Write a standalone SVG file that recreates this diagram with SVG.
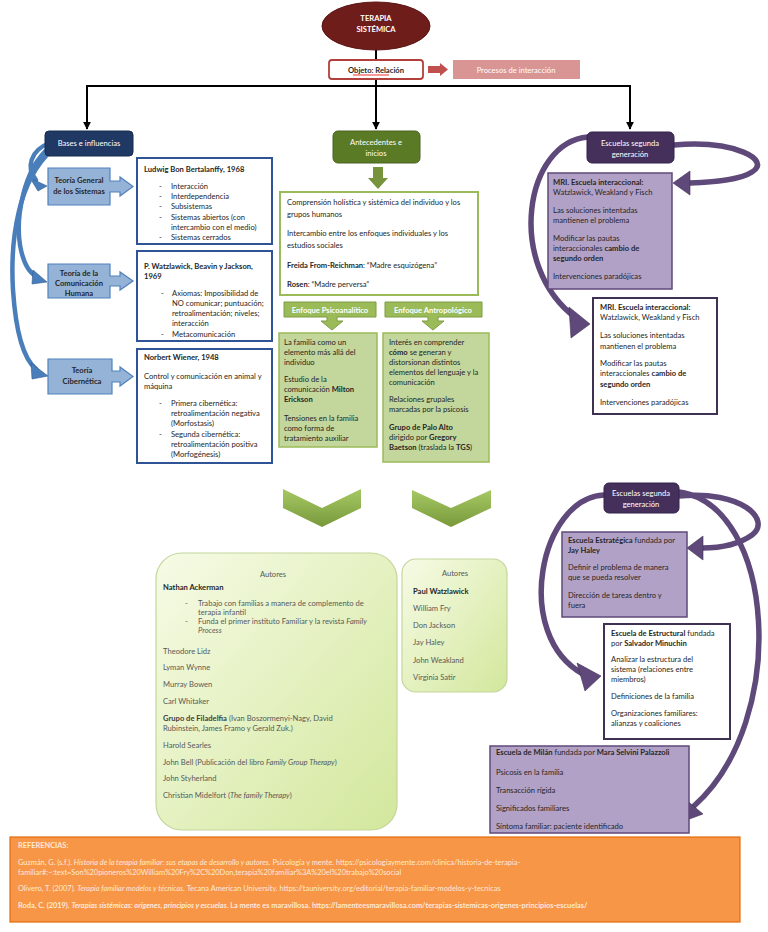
<svg xmlns="http://www.w3.org/2000/svg" width="768" height="932" viewBox="0 0 768 932">
<style>
.t{font-family:Lato,"Liberation Sans",sans-serif;font-size:7.6px;fill:#262626}
.b{font-weight:bold}
.w{fill:#fff}
.g{fill:#595959}
.c{text-anchor:middle}
.i{font-style:italic}
.ref{font-family:Lato,"Liberation Sans",sans-serif;font-size:7.4px;fill:#fde9d9}
.blue{fill:none;stroke:#4a7ebb;stroke-width:4.5;stroke-linecap:round}
.bluehead{fill:#4a7ebb;stroke:#2c5a8f;stroke-width:0.6}
.purp{fill:none;stroke:#5f497a;stroke-width:5.5;stroke-linecap:round}
.purphead{fill:#5f497a;stroke:#3f3151;stroke-width:0.6}
.callout{fill:#95b3d7;stroke:#4f81bd;stroke-width:1.2}
.wbox{fill:#fff;stroke:#2f5496;stroke-width:2}
.pbox{fill:#b2a1c7;stroke:#5f497a;stroke-width:1.5}
.pwbox{fill:#fff;stroke:#3f3151;stroke-width:2}
.gbox{fill:#c3d69b;stroke:#9bbb59;stroke-width:1.5}
</style>
<defs>
<linearGradient id="autg" x1="0" y1="0" x2="1" y2="1">
<stop offset="0" stop-color="#f6fbe6"/>
<stop offset="1" stop-color="#d3e79c"/>
</linearGradient>
<linearGradient id="chev" x1="0" y1="0" x2="0" y2="1">
<stop offset="0" stop-color="#a6c964"/>
<stop offset="1" stop-color="#78983a"/>
</linearGradient>
<marker id="ah" viewBox="0 0 10 10" refX="9" refY="5" markerWidth="4" markerHeight="4" orient="auto">
<path d="M0,0 L10,5 L0,10 z" fill="#000"/>
</marker>
</defs>

<g id="connectors">
<line x1="376" y1="50" x2="376" y2="86" stroke="#000" stroke-width="2"/>
<line x1="86" y1="86" x2="630" y2="86" stroke="#000" stroke-width="2"/>
<line x1="87" y1="85" x2="87" y2="129" stroke="#000" stroke-width="2" marker-end="url(#ah)"/>
<line x1="376" y1="85" x2="376" y2="129" stroke="#000" stroke-width="2" marker-end="url(#ah)"/>
<line x1="630" y1="85" x2="630" y2="129" stroke="#000" stroke-width="2" marker-end="url(#ah)"/>
<polygon points="428,66 440,66 440,63 448,69.5 440,76 440,73 428,73" fill="#c0504d"/>
<path class="blue" d="M50,143 C30,150 26,168 36,180"/>
<polygon class="bluehead" points="30,178 47,186 38,191"/>
<path class="blue" d="M50,147 C22,170 16,220 20,245 C23,262 28,272 36,276"/>
<polygon class="bluehead" points="33,270 47,282 32,284"/>
<path class="blue" d="M52,150 C18,180 10,240 13,290 C16,335 25,360 36,369"/>
<polygon class="bluehead" points="31,363 48,376 32,379"/>
<polygon points="373,167 383,167 383,178 388,178 378,189 368,178 373,178" fill="#77933c"/>
<path class="purp" d="M674,145 C735,140 772,160 752,172 C740,180 715,182 690,183"/>
<polygon class="purphead" points="673,183 690,171 690,195"/>
<path class="purp" d="M588,137 C525,142 505,265 576,318"/>
<polygon class="purphead" points="569,307 590,324 571,338"/>
<path class="purp" d="M679,496 C742,490 772,520 752,535 C738,545 720,548 702,548"/>
<polygon class="purphead" points="687,548 703,536 703,560"/>
<path class="purp" d="M604,495 C540,498 512,635 583,674"/>
<polygon class="purphead" points="577,663 601,676 585,691"/>
<path class="purp" d="M679,492 C775,505 790,720 694,806"/>
<polygon class="purphead" points="684,821 703,814 685,799"/>
</g>

<g id="terapia">
<ellipse cx="376" cy="26" rx="54" ry="24" fill="#6f1d1b" stroke="#5a1414" stroke-width="1"/>
<text class="t b w c" x="376" y="21" font-size="8.5">TERAPIA</text>
<text class="t b w c" x="376" y="32" font-size="8.5">SISTÉMICA</text>
</g>

<g id="objeto">
<rect x="329" y="60" width="94" height="19" rx="3" fill="#fff" stroke="#b1403c" stroke-width="1.8"/>
<text class="t b c" x="376" y="72.5" font-size="8">Objeto: Relación</text>
<line x1="353" y1="75" x2="389" y2="75" stroke="#e00" stroke-width="0.8"/>
</g>

<g id="procesos">
<rect x="453" y="60" width="127" height="19" fill="#d99594"/>
<text class="t w c" x="516" y="72.5" font-size="8">Procesos de interacción</text>
</g>

<g id="bases">
<rect x="45" y="131" width="88" height="25" rx="4" fill="#1f3864" stroke="#162a4d" stroke-width="1"/>
<text class="t w c" x="89" y="146" font-size="7.2">Bases e influencias</text>
</g>

<g id="teoria-general">
<path class="callout" d="M48,168 H110 V181 H120 V177 L133,186.5 L120,196 V192 H110 V205 H48 Z"/>
<text class="t b c" x="79" y="183" fill="#17365d">Teoría General</text>
<text class="t b c" x="79" y="194" fill="#17365d">de los Sistemas</text>
</g>

<g id="teoria-comunicacion">
<path class="callout" d="M48,264 H110 V276 H120 V272 L133,281 L120,290 V286 H110 V298 H48 Z"/>
<text class="t b c" x="79" y="276">Teoría de la</text>
<text class="t b c" x="79" y="286">Comunicación</text>
<text class="t b c" x="79" y="296">Humana</text>
</g>

<g id="teoria-cibernetica">
<path class="callout" d="M48,359 H112 V371 H120 V367 L133,376.5 L120,386 V382 H112 V394 H48 Z"/>
<text class="t b c" x="82" y="373">Teoría</text>
<text class="t b c" x="82" y="384">Cibernética</text>
</g>

<g id="ludwig">
<rect class="wbox" x="137" y="158" width="135" height="86"/>
<text class="t b" x="144" y="172">Ludwig Bon Bertalanffy, 1968</text>
<text class="t" x="159" y="189">-</text><text class="t" x="171" y="189">Interacción</text>
<text class="t" x="159" y="199">-</text><text class="t" x="171" y="199">Interdependencia</text>
<text class="t" x="159" y="209">-</text><text class="t" x="171" y="209">Subsistemas</text>
<text class="t" x="159" y="220">-</text><text class="t" x="171" y="220">Sistemas abiertos (con</text>
<text class="t" x="171" y="230">intercambio con el medio)</text>
<text class="t" x="159" y="240">-</text><text class="t" x="171" y="240">Sistemas cerrados</text>
</g>

<g id="watzlawick">
<rect class="wbox" x="137" y="251" width="135" height="90"/>
<text class="t b" x="144" y="269">P. Watzlawick, Beavin y Jackson,</text>
<text class="t b" x="144" y="279">1969</text>
<text class="t" x="161" y="296">-</text><text class="t" x="172" y="296">Axiomas: Imposibilidad de</text>
<text class="t" x="172" y="306">NO comunicar; puntuación;</text>
<text class="t" x="172" y="316">retroalimentación; niveles;</text>
<text class="t" x="172" y="326">interacción</text>
<text class="t" x="161" y="337">-</text><text class="t" x="172" y="337">Metacomunicación</text>
</g>

<g id="wiener">
<rect class="wbox" x="137" y="349" width="135" height="114"/>
<text class="t b" x="144" y="360">Norbert Wiener, 1948</text>
<text class="t" x="144" y="379">Control y comunicación en animal y</text>
<text class="t" x="144" y="389">máquina</text>
<text class="t" x="159" y="406">-</text><text class="t" x="171" y="406">Primera cibernética:</text>
<text class="t" x="171" y="416">retroalimentación negativa</text>
<text class="t" x="171" y="426">(Morfostasis)</text>
<text class="t" x="159" y="437">-</text><text class="t" x="171" y="437">Segunda cibernética:</text>
<text class="t" x="171" y="447">retroalimentación positiva</text>
<text class="t" x="171" y="457">(Morfogénesis)</text>
</g>

<g id="antecedentes">
<rect x="333" y="131" width="87" height="32" rx="5" fill="#5b7a26" stroke="#4a6320" stroke-width="1"/>
<text class="t w c" x="376" y="145" font-size="7.2">Antecedentes e</text>
<text class="t w c" x="376" y="156" font-size="7.2">inicios</text>
</g>

<g id="comprension">
<rect x="280" y="192" width="198" height="103" fill="#fff" stroke="#9bbb59" stroke-width="2"/>
<text class="t" x="287" y="205">Comprensión holística y sistémica del individuo y los</text>
<text class="t" x="287" y="217">grupos humanos</text>
<text class="t" x="287" y="236">Intercambio entre los enfoques individuales  y los</text>
<text class="t" x="287" y="248">estudios sociales</text>
<text class="t" x="287" y="268"><tspan class="b">Freida  From-Reichman</tspan>: “Madre esquizógena”</text>
<text class="t" x="287" y="287"><tspan class="b">Rosen</tspan>: “Madre perversa”</text>
</g>

<g id="enfoque-psico">
<path d="M284,302 H376 V317 H337 V321 H343 L332,330 L321,321 H327 V317 H284 Z" fill="#9bbb59" stroke="#7f9c45" stroke-width="1"/>
<text class="t b w c" x="330" y="312.5" font-size="7.2">Enfoque Psicoanalítico</text>
</g>

<g id="enfoque-antro">
<path d="M385,302 H482 V317 H438 V321 H444 L433,330 L422,321 H428 V317 H385 Z" fill="#9bbb59" stroke="#7f9c45" stroke-width="1"/>
<text class="t b w c" x="433" y="312.5" font-size="7.2">Enfoque Antropológico</text>
</g>

<g id="psico-box">
<rect class="gbox" x="279" y="333" width="98" height="114"/>
<text class="t" x="284" y="345">La familia como un</text>
<text class="t" x="284" y="355">elemento más allá del</text>
<text class="t" x="284" y="365">individuo</text>
<text class="t" x="284" y="382">Estudio de la</text>
<text class="t" x="284" y="392">comunicación <tspan class="b">Milton</tspan></text>
<text class="t b" x="284" y="402">Erickson</text>
<text class="t" x="284" y="421">Tensiones en la familia</text>
<text class="t" x="284" y="431">como forma de</text>
<text class="t" x="284" y="441">tratamiento auxiliar</text>
</g>

<g id="antro-box">
<rect class="gbox" x="383" y="333" width="106" height="129"/>
<text class="t" x="389" y="345">Interés en comprender</text>
<text class="t" x="389" y="355"><tspan class="b">cómo</tspan> se generan y</text>
<text class="t" x="389" y="365">distorsionan distintos</text>
<text class="t" x="389" y="375">elementos del lenguaje y la</text>
<text class="t" x="389" y="385">comunicación</text>
<text class="t" x="389" y="402">Relaciones grupales</text>
<text class="t" x="389" y="412">marcadas por la psicosis</text>
<text class="t b" x="389" y="430">Grupo de Palo Alto</text>
<text class="t" x="389" y="440">dirigido por <tspan class="b">Gregory</tspan></text>
<text class="t" x="389" y="450"><tspan class="b">Baetson</tspan> (traslada  la <tspan class="b">TGS</tspan>)</text>
</g>

<g id="chevron-left">
<polygon points="283,489 322,508 361,489 361,508 322,527 283,508" fill="url(#chev)"/>
</g>
<g id="chevron-right">
<polygon points="412,490 451,508 491,490 491,508 451,527 412,508" fill="url(#chev)"/>
</g>

<g id="autores-1">
<rect x="156" y="553" width="241" height="277" rx="26" fill="url(#autg)" stroke="#c3d69b" stroke-width="1.2"/>
<text class="t g c" x="273" y="577">Autores</text>
<text class="t b" x="163" y="590" fill="#404040">Nathan Ackerman</text>
<text class="t g" x="185" y="606">-</text><text class="t g" x="198" y="606">Trabajo con familias a manera de complemento de</text>
<text class="t g" x="198" y="615">terapia infantil</text>
<text class="t g" x="185" y="624">-</text><text class="t g" x="198" y="624">Funda el primer instituto Familiar y la revista <tspan class="i">Family</tspan></text>
<text class="t g i" x="198" y="633">Process</text>
<text class="t g" x="163" y="654">Theodore Lidz</text>
<text class="t g" x="163" y="670">Lyman Wynne</text>
<text class="t g" x="163" y="687">Murray Bowen</text>
<text class="t g" x="163" y="704">Carl Whitaker</text>
<text class="t g" x="163" y="721"><tspan class="b" fill="#404040">Grupo de Filadelfia</tspan> (Ivan Boszormenyi-Nagy, David</text>
<text class="t g" x="163" y="731">Rubinstein, James Framo y Gerald Zuk.)</text>
<text class="t g" x="163" y="748">Harold Searles</text>
<text class="t g" x="163" y="765">John Bell (Publicación del libro <tspan class="i">Family Group Therapy</tspan>)</text>
<text class="t g" x="163" y="781">John Styherland</text>
<text class="t g" x="163" y="798">Christian Midelfort (<tspan class="i">The family Therapy</tspan>)</text>
</g>

<g id="autores-2">
<rect x="402" y="559" width="105" height="133" rx="14" fill="url(#autg)" stroke="#c3d69b" stroke-width="1.2"/>
<text class="t g c" x="455" y="576">Autores</text>
<text class="t b" x="413" y="594" fill="#404040">Paul Watzlawick</text>
<text class="t g" x="413" y="611">William Fry</text>
<text class="t g" x="413" y="628">Don Jackson</text>
<text class="t g" x="413" y="645">Jay Haley</text>
<text class="t g" x="413" y="663">John Weakland</text>
<text class="t g" x="413" y="680">Virginia Satir</text>
</g>

<g id="escuelas-1">
<rect x="587" y="132" width="87" height="31" rx="5" fill="#45305c" stroke="#33224a" stroke-width="1"/>
<text class="t w c" x="630" y="146" font-size="7.2">Escuelas segunda</text>
<text class="t w c" x="630" y="157" font-size="7.2">generación</text>
</g>

<g id="mri-1">
<rect class="pbox" x="548" y="173" width="124" height="116"/>
<text class="t b" x="553" y="185">MRI. Escuela interaccional:</text>
<text class="t" x="553" y="195">Watzlawick, Weakland y Fisch</text>
<text class="t" x="553" y="213">Las soluciones intentadas</text>
<text class="t" x="553" y="223">mantienen el problema</text>
<text class="t" x="553" y="241">Modificar las pautas</text>
<text class="t" x="553" y="251">interaccionales <tspan class="b">cambio de</tspan></text>
<text class="t b" x="553" y="261">segundo orden</text>
<text class="t" x="553" y="279">Intervenciones paradójicas</text>
</g>

<g id="mri-2">
<rect class="pwbox" x="593" y="298" width="124" height="116"/>
<text class="t b" x="600" y="310">MRI. Escuela interaccional:</text>
<text class="t" x="600" y="320">Watzlawick, Weakland y Fisch</text>
<text class="t" x="600" y="338">Las soluciones intentadas</text>
<text class="t" x="600" y="349">mantienen el problema</text>
<text class="t" x="600" y="366">Modificar las pautas</text>
<text class="t" x="600" y="376">interaccionales <tspan class="b">cambio de</tspan></text>
<text class="t b" x="600" y="387">segundo orden</text>
<text class="t" x="600" y="405">Intervenciones paradójicas</text>
</g>

<g id="escuelas-2">
<rect x="604" y="483" width="75" height="30" rx="5" fill="#45305c" stroke="#33224a" stroke-width="1"/>
<text class="t w c" x="641" y="496" font-size="7.2">Escuelas segunda</text>
<text class="t w c" x="641" y="507" font-size="7.2">generación</text>
</g>

<g id="estrategica">
<rect class="pbox" x="562" y="532" width="125" height="85"/>
<text class="t" x="568" y="543"><tspan class="b">Escuela Estratégica</tspan> fundada por</text>
<text class="t b" x="568" y="553">Jay Haley</text>
<text class="t" x="568" y="570">Definir el problema de manera</text>
<text class="t" x="568" y="580">que se pueda resolver</text>
<text class="t" x="568" y="598">Dirección de tareas dentro y</text>
<text class="t" x="568" y="608">fuera</text>
</g>

<g id="estructural">
<rect class="pwbox" x="604" y="624" width="126" height="115"/>
<text class="t" x="611" y="636"><tspan class="b">Escuela  de Estructural</tspan> fundada</text>
<text class="t" x="611" y="646">por <tspan class="b">Salvador Minuchin</tspan></text>
<text class="t" x="611" y="662">Analizar la estructura del</text>
<text class="t" x="611" y="672">sistema (relaciones entre</text>
<text class="t" x="611" y="682">miembros)</text>
<text class="t" x="611" y="699">Definiciones de la familia</text>
<text class="t" x="611" y="716">Organizaciones familiares:</text>
<text class="t" x="611" y="726">alianzas y coaliciones</text>
</g>

<g id="milan">
<rect class="pbox" x="490" y="746" width="199" height="87"/>
<text class="t" x="496" y="755"><tspan class="b">Escuela de Milán</tspan> fundada por <tspan class="b">Mara Selvini Palazzoli</tspan></text>
<text class="t" x="496" y="775">Psicosis en la familia</text>
<text class="t" x="496" y="793">Transacción rígida</text>
<text class="t" x="496" y="811">Significados familiares</text>
<text class="t" x="496" y="829">Síntoma familiar: paciente identificado</text>
</g>

<g id="referencias">
<rect x="10" y="837" width="730" height="85" fill="#f79646" stroke="#e36c09" stroke-width="1.2"/>
<text class="ref b" x="18" y="848" font-size="7">REFERENCIAS:</text>
<text class="ref" x="18" y="865">Guzmán, G. (s.f.). <tspan class="i">Historia de la terapia familiar: sus etapas de desarrollo y autores.</tspan> Psicología y mente. https://psicologiaymente.com/clinica/historia-de-terapia-</text>
<text class="ref" x="18" y="875">familiar#:~:text=Son%20pioneros%20William%20Fry%2C%20Don,terapia%20familiar%3A%20el%20trabajo%20social</text>
<text class="ref" x="18" y="891" font-size="7.7">Olivero, T. (2007). <tspan class="i">Terapia familiar modelos y técnicas.</tspan> Tecana American University. https://tauniversity.org/editorial/terapia-familiar-modelos-y-tecnicas</text>
<text class="ref b" x="18" y="908" font-size="8" fill="#fff">Roda, C. (2019). <tspan class="i">Terapias sistémicas: orígenes, principios y escuelas.</tspan> La mente es maravillosa. https://lamenteesmaravillosa.com/terapias-sistemicas-origenes-principios-escuelas/</text>
</g>
</svg>
